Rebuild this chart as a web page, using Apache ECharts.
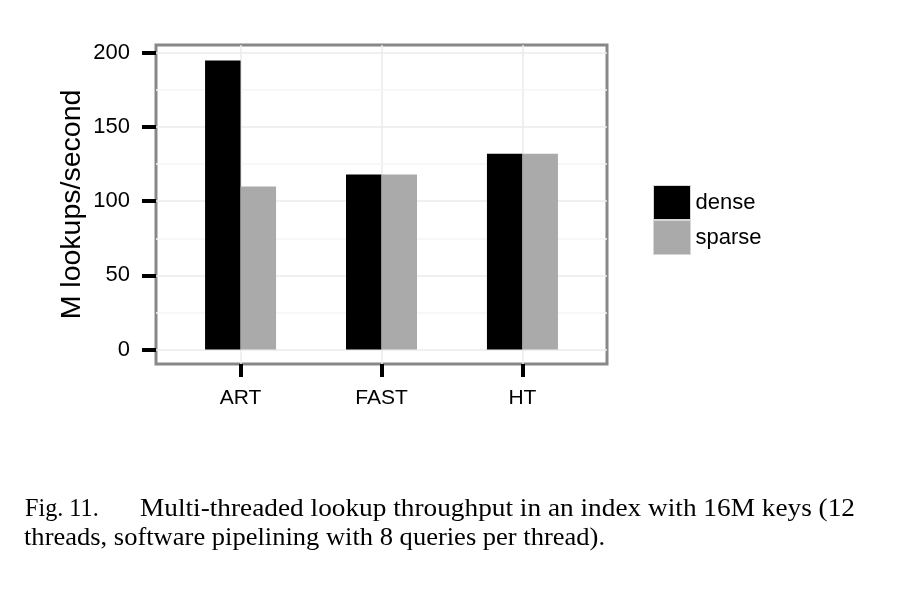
<!DOCTYPE html>
<html>
<head>
<meta charset="utf-8">
<script src="https://cdn.jsdelivr.net/npm/echarts@6/dist/echarts.min.js"></script>
<style>
  html, body { margin: 0; padding: 0; background: #fff; }
  #chart { width: 904px; height: 592px; }
</style>
</head>
<body>
<div id="chart"></div>
<script>
// ---- data ----
const categories = ['ART', 'FAST', 'HT'];
const denseValues = [195, 118, 132];
const sparseValues = [110, 118, 132];
const seriesNames = ['dense', 'sparse'];
const yTicks = [0, 50, 100, 150, 200];
const yMinorLines = [25, 75, 125, 175];
const xPositions = [1, 2, 3];
const yTitle = 'M lookups/second';
const captionLine1a = 'Fig. 11.';
const captionLine1b = 'Multi-threaded lookup throughput in an index with 16M keys (12';
const captionLine2 = 'threads, software pipelining with 8 queries per thread).';

const chart = echarts.init(document.getElementById('chart'), null, { renderer: 'canvas' });
const sans = 'Liberation Sans, Arial, sans-serif';
const serif = 'Liberation Serif, Times New Roman, serif';

const toPairs = vals => vals.map((v, i) => [xPositions[i], v]);

const option = {
  animation: false,
  backgroundColor: '#ffffff',
  grid: {
    left: 156, top: 45, width: 451, height: 319,
    show: true, backgroundColor: '#ffffff',
    borderColor: '#888888', borderWidth: 3
  },
  legend: {
    orient: 'vertical', left: 653, top: 185, padding: 0,
    itemWidth: 37, itemHeight: 34, itemGap: 0,
    icon: 'rect',
    itemStyle: { borderColor: '#d6d6d6', borderWidth: 1 },
    textStyle: { fontSize: 22, color: '#000', fontFamily: sans },
    data: seriesNames
  },
  xAxis: {
    type: 'value', min: 0.4, max: 3.6, splitNumber: 3,
    axisLine: { show: false, onZero: false },
    axisTick: { show: true, customValues: xPositions, length: 13, lineStyle: { color: '#000', width: 4 } },
    axisLabel: {
      customValues: xPositions, margin: 24, fontSize: 21, color: '#000', fontFamily: sans,
      formatter: v => { const i = Math.round(v); return (Math.abs(v - i) < 1e-6 && categories[i - 1]) ? categories[i - 1] : ''; }
    },
    splitLine: { show: true, lineStyle: { color: '#ebebeb', width: 1.5 } }
  },
  yAxis: {
    type: 'value', min: -9.8, max: 205.4, splitNumber: 5,
    name: yTitle, nameLocation: 'middle', nameGap: 69, nameRotate: 90,
    nameTextStyle: { fontSize: 28.5, color: '#000', fontFamily: sans },
    axisLine: { show: false },
    axisTick: { show: true, customValues: yTicks, length: 14, lineStyle: { color: '#000', width: 4 } },
    axisLabel: {
      customValues: yTicks, margin: 26, fontSize: 22, color: '#000', fontFamily: sans,
      formatter: v => (yTicks.indexOf(v) >= 0 ? String(v) : '')
    },
    splitLine: { show: true, lineStyle: { color: '#ebebeb', width: 1.5 } }
  },
  series: [
    {
      name: seriesNames[0], type: 'bar', data: toPairs(denseValues),
      barWidth: 35.5, barGap: '0%',
      itemStyle: { color: '#000000' },
      markLine: {
        silent: true, symbol: 'none', z: 1,
        label: { show: false },
        lineStyle: { color: '#f4f4f4', width: 1.5, type: 'solid' },
        data: yMinorLines.map(v => ({ yAxis: v }))
      }
    },
    {
      name: seriesNames[1], type: 'bar', data: toPairs(sparseValues),
      barWidth: 35.5, barGap: '0%',
      itemStyle: { color: '#aaaaaa' }
    }
  ],
  graphic: [
    { type: 'text', x: 25, y: 496, scaleX: 0.93, style: { text: captionLine1a, font: '26px ' + serif, fill: '#000' } },
    { type: 'text', x: 140, y: 496, scaleX: 1.05, style: { text: captionLine1b, font: '26px ' + serif, fill: '#000' } },
    { type: 'text', x: 24, y: 525, scaleX: 1.02, style: { text: captionLine2, font: '26px ' + serif, fill: '#000' } }
  ]
};
chart.setOption(option);
</script>
</body>
</html>
